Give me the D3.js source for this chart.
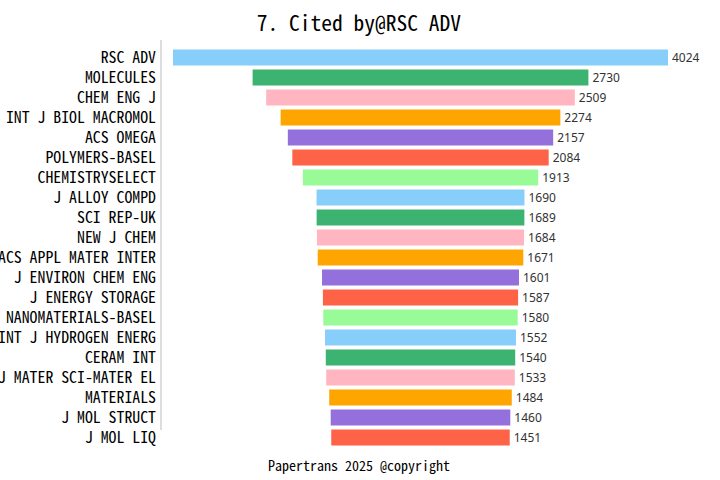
<!DOCTYPE html>
<html>
<head>
    <meta charset="utf-8">
    <title>Cited by@RSC ADV</title>
    <script src="https://d3js.org/d3.v7.min.js"></script>
    <style>
        body, html {
            margin: 0;
            background: #fff;
            overflow: hidden;
        }
        svg text {
            font-family: "Noto Sans Mono CJK SC", "DejaVu Sans Mono", monospace;
        }
        svg text.value {
            font-family: "Noto Sans", "Noto Sans CJK SC", sans-serif;
        }
    </style>
</head>
<body>
<div id="chart"></div>
<script>
    const journals = ["RSC ADV", "MOLECULES", "CHEM ENG J", "INT J BIOL MACROMOL", "ACS OMEGA",
        "POLYMERS-BASEL", "CHEMISTRYSELECT", "J ALLOY COMPD", "SCI REP-UK", "NEW J CHEM",
        "ACS APPL MATER INTER", "J ENVIRON CHEM ENG", "J ENERGY STORAGE", "NANOMATERIALS-BASEL",
        "INT J HYDROGEN ENERG", "CERAM INT", "J MATER SCI-MATER EL", "MATERIALS", "J MOL STRUCT", "J MOL LIQ"];
    const citations = [4024, 2730, 2509, 2274, 2157, 2084, 1913, 1690, 1689, 1684,
        1671, 1601, 1587, 1580, 1552, 1540, 1533, 1484, 1460, 1451];
    const palette = ["#87CEFA", "#3CB371", "#FFB6C1", "#FFA500", "#9370DB", "#FF6347", "#98FB98"];

    const width = 720,
          height = 480,
          centerX = 420.5,
          maxBarWidth = 495;

    const svg = d3.select("#chart")
                  .append("svg")
                  .attr("width", width)
                  .attr("height", height);

    const y = d3.scaleBand()
                .domain(journals)
                .range([47.5, 447.5])
                .paddingInner(0.2)
                .paddingOuter(0.1);

    // bar width, centred on one vertical line
    const w = d3.scaleLinear()
                .domain([0, d3.max(citations)])
                .range([0, maxBarWidth]);

    const rows = journals.map((name, i) => ({name: name, value: citations[i], i: i}));

    // left axis line
    svg.append("line")
       .attr("x1", 161).attr("x2", 161)
       .attr("y1", 40).attr("y2", 430)
       .attr("stroke", "#ddd")
       .attr("stroke-width", 2);

    svg.selectAll("rect.bar")
       .data(rows)
       .join("rect")
       .attr("class", "bar")
       .attr("x", d => centerX - w(d.value) / 2)
       .attr("y", d => y(d.name))
       .attr("width", d => w(d.value))
       .attr("height", y.bandwidth())
       .attr("fill", d => palette[d.i % palette.length]);

    svg.selectAll("text.label")
       .data(rows)
       .join("text")
       .attr("class", "label")
       .attr("x", 156)
       .attr("y", d => y(d.name) + y.bandwidth() / 2)
       .attr("dy", "0.36em")
       .attr("text-anchor", "end")
       .attr("font-size", 15.8)
       .attr("fill", "#000")
       .text(d => d.name);

    svg.selectAll("text.value")
       .data(rows)
       .join("text")
       .attr("class", "value")
       .attr("x", d => centerX + w(d.value) / 2 + 4)
       .attr("y", d => y(d.name) + y.bandwidth() / 2)
       .attr("dy", "0.35em")
       .attr("font-size", 12)
       .attr("fill", "#333")
       .text(d => d.value);

    svg.append("text")
       .attr("x", 359).attr("y", 31)
       .attr("text-anchor", "middle")
       .attr("font-size", 21.5)
       .text("7. Cited by@RSC ADV");

    svg.append("text")
       .attr("x", 359).attr("y", 471)
       .attr("text-anchor", "middle")
       .attr("font-size", 14)
       .text("Papertrans 2025 @copyright");
</script>
</body>
</html>
